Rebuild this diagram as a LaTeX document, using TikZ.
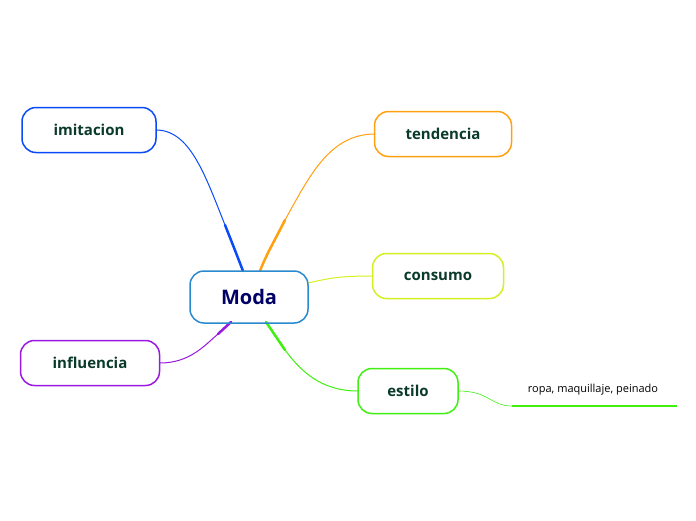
\documentclass[tikz,border=0pt]{standalone}
\usepackage{fontspec}
\setmainfont{Open Sans}
\begin{document}
\begin{tikzpicture}[x=1pt,y=-1pt,
  topic/.style={draw,line width=1.5pt,rounded corners=14pt,minimum height=45pt,font=\bfseries\fontsize{15}{18}\selectfont,text=green!30!black!90!blue,inner sep=0pt},
  link/.style={line cap=round}]
\useasboundingbox[fill=white] (0,0) rectangle (696,520);
\definecolor{cmoda}{HTML}{2A8AD0}
\definecolor{cimi}{HTML}{0A4AF8}
\definecolor{cten}{HTML}{FFA010}
\definecolor{ccon}{HTML}{D4F020}
\definecolor{cinf}{HTML}{9A18E0}
\definecolor{cest}{HTML}{40F010}
\definecolor{ctxt}{HTML}{0A3A2A}
\draw[cimi,line width=1pt] (156,130) .. controls (190,130) and (205,175) .. (225,225);
\draw[cimi,line width=2.5pt,link] (225,225) .. controls (233,245) and (238,258) .. (243,271);
\draw[cten,line width=1pt] (375,134) .. controls (330,134) and (310,175) .. (285,220);
\draw[cten,line width=2.5pt,link] (285,220) .. controls (275,240) and (266,255) .. (260,271);
\draw[ccon,line width=1pt] (372,276) .. controls (340,276) and (330,278) .. (308,283);
\draw[cinf,line width=1pt] (160,363) .. controls (190,363) and (205,345) .. (218,334);
\draw[cinf,line width=2.5pt,link] (218,334) -- (231,322);
\draw[cest,line width=1pt] (358,391) .. controls (320,391) and (300,370) .. (285,350);
\draw[cest,line width=2.5pt,link] (285,350) -- (266,322);
\draw[cest,line width=0.6pt] (458,391) .. controls (490,391) and (490,406) .. (512,406);
\draw[cest,line width=2.5pt] (512,406) -- (677,406);
\node[topic,cmoda,minimum width=118pt,minimum height=52pt,font=\bfseries\fontsize{20}{24}\selectfont,text=blue!40!black] (moda) at (249,297) {Moda};
\node[topic,cimi,minimum width=134pt,text=ctxt] (imi) at (89,130) {imitacion};
\node[topic,cten,minimum width=137pt,text=ctxt] (ten) at (443,134) {tendencia};
\node[topic,ccon,minimum width=131pt,text=ctxt] (con) at (438,276) {consumo};
\node[topic,cinf,minimum width=139pt,text=ctxt] (inf) at (90,363) {influencia};
\node[topic,cest,minimum width=100pt,text=ctxt] (est) at (408,391) {estilo};
\node[font=\fontsize{11}{13}\selectfont] (sub) at (593,390) {ropa, maquillaje, peinado};
\end{tikzpicture}
\end{document}
